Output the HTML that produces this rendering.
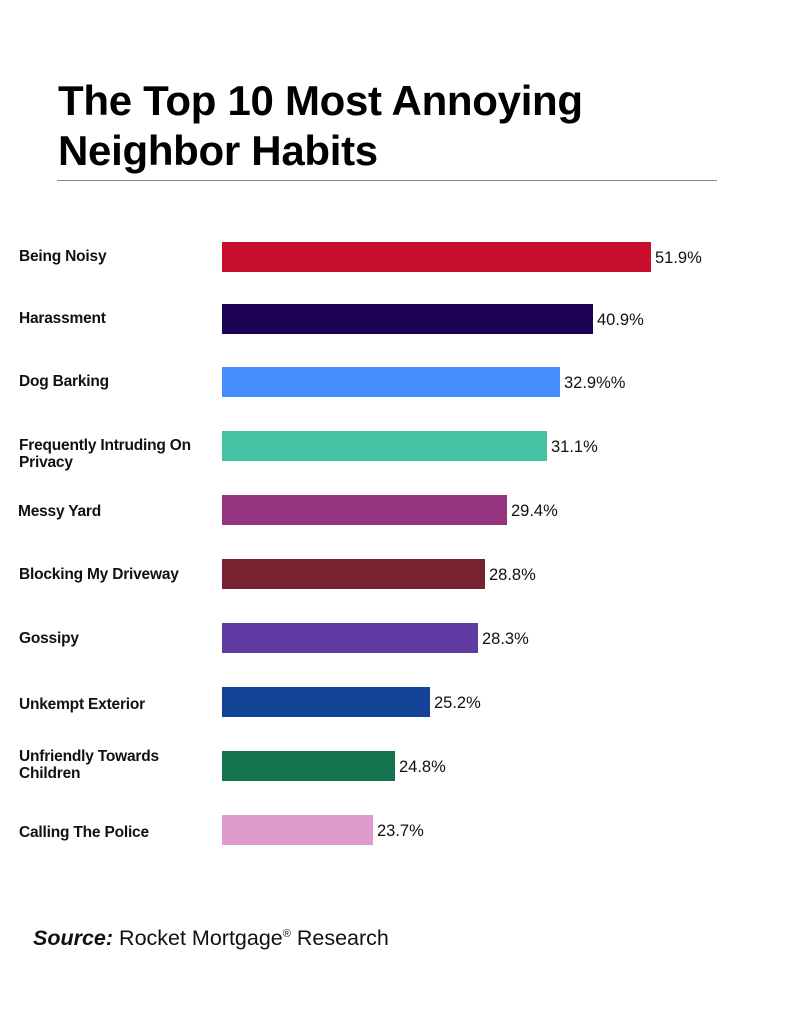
<!DOCTYPE html>
<html><head><meta charset="utf-8"><style>
body{margin:0;background:#fff;}
.wrap{position:relative;width:800px;height:1017px;overflow:hidden;font-family:"Liberation Sans",sans-serif;}
h1{position:absolute;left:58px;top:76px;margin:0;font-size:42px;line-height:50px;font-weight:bold;color:#000;letter-spacing:-0.3px;}
.rule{position:absolute;left:57px;top:180px;width:660px;height:1px;background:#888;}
.lab{position:absolute;left:19px;font-size:15.5px;font-weight:bold;color:#111;line-height:17px;letter-spacing:-0.2px;}
.bar{position:absolute;left:222px;height:30px;}
.val{position:absolute;font-size:16.5px;color:#111;line-height:32px;}
.src{position:absolute;left:33px;top:926px;font-size:21.5px;color:#111;}
</style></head><body><div class="wrap">
<h1>The Top 10 Most Annoying<br>Neighbor Habits</h1>
<div class="rule"></div>

<div class="lab" style="top:248px">Being Noisy</div>
<div class="bar" style="top:242px;width:429px;background:#c8102e"></div>
<div class="val" style="top:242px;left:655px">51.9%</div>

<div class="lab" style="top:310px">Harassment</div>
<div class="bar" style="top:304px;width:371px;background:#1c0052"></div>
<div class="val" style="top:304px;left:597px">40.9%</div>

<div class="lab" style="top:373px">Dog Barking</div>
<div class="bar" style="top:367px;width:338px;background:#468cff"></div>
<div class="val" style="top:367px;left:564px">32.9%%</div>

<div class="lab" style="top:437px">Frequently Intruding On<br>Privacy</div>
<div class="bar" style="top:431px;width:325px;background:#45c2a3"></div>
<div class="val" style="top:431px;left:551px">31.1%</div>

<div class="lab" style="top:503px;left:18px">Messy Yard</div>
<div class="bar" style="top:495px;width:285px;background:#97347f"></div>
<div class="val" style="top:495px;left:511px">29.4%</div>

<div class="lab" style="top:566px">Blocking My Driveway</div>
<div class="bar" style="top:559px;width:263px;background:#772230"></div>
<div class="val" style="top:559px;left:489px">28.8%</div>

<div class="lab" style="top:630px">Gossipy</div>
<div class="bar" style="top:623px;width:256px;background:#5f3aa3"></div>
<div class="val" style="top:623px;left:482px">28.3%</div>

<div class="lab" style="top:696px">Unkempt Exterior</div>
<div class="bar" style="top:687px;width:208px;background:#124396"></div>
<div class="val" style="top:687px;left:434px">25.2%</div>

<div class="lab" style="top:748px">Unfriendly Towards<br>Children</div>
<div class="bar" style="top:751px;width:173px;background:#167350"></div>
<div class="val" style="top:751px;left:399px">24.8%</div>

<div class="lab" style="top:824px">Calling The Police</div>
<div class="bar" style="top:815px;width:151px;background:#df9bce"></div>
<div class="val" style="top:815px;left:377px">23.7%</div>

<div class="src"><b><i>Source:</i></b> Rocket Mortgage<sup style="font-size:11px">®</sup> Research</div>
</div></body></html>
